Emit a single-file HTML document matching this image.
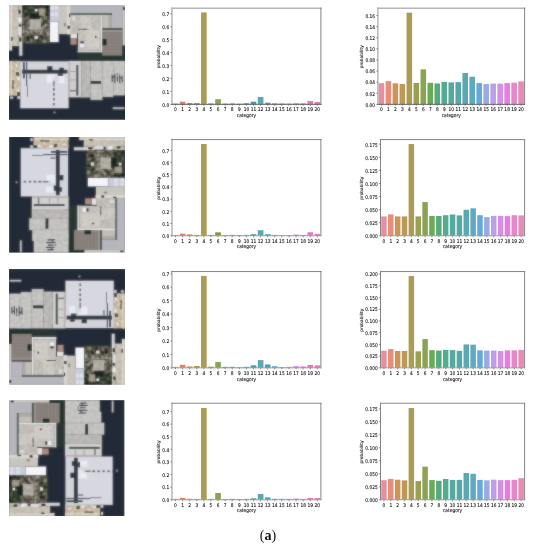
<!DOCTYPE html>
<html><head><meta charset="utf-8"><title>Figure (a)</title>
<style>
html,body{margin:0;padding:0;background:#fff;}
svg{display:block}
.ch text{font-family:"DejaVu Sans","Liberation Sans",sans-serif;font-size:43.5px;fill:#111;stroke:#111;stroke-width:0.9px;text-rendering:geometricPrecision;}
.cap{font-family:"Liberation Serif","DejaVu Serif",serif;font-size:14.1px;fill:#111;}
</style></head><body>
<svg width="535" height="550" viewBox="0 0 535 550">
<defs>
<filter id="nz" x="0" y="0" width="100%" height="100%" color-interpolation-filters="sRGB"><feTurbulence type="fractalNoise" baseFrequency="0.3" numOctaves="2" seed="7"/><feColorMatrix type="matrix" values="0 2.2 0 0 -0.6  0 2.2 0 0 -0.6  0 2.2 0 0 -0.6  0 0 0 0 1"/></filter>
<filter id="bl" x="-5%" y="-5%" width="110%" height="110%"><feGaussianBlur stdDeviation="0.8"/></filter>
<g id="scene"><g transform="translate(-9,-5.3)">
<!-- base dark shadow -->
<rect x="8" y="4" width="119" height="118" fill="#242b38"/>
<!-- ===== top-left ===== -->
<rect x="9" y="5" width="3" height="45.5" fill="#d8d4ca"/>
<rect x="11.9" y="5" width="6.4" height="41" fill="#c7c0b3"/>
<rect x="18.2" y="5" width="4" height="41" fill="#bfbaaf"/>
<rect x="19.3" y="41" width="3" height="14.7" fill="#d0d0d4"/>
<!-- cars -->
<rect x="18.4" y="9.7" width="2.2" height="3.8" rx="0.8" fill="#2a2e28"/>
<rect x="18.3" y="17.6" width="3" height="4.8" rx="1" fill="#ececf2"/>
<rect x="19" y="24.3" width="2.2" height="2.2" rx="0.8" fill="#33372f"/>
<rect x="18.3" y="27" width="3.2" height="8.2" rx="1" fill="#dedee4"/>
<rect x="19.2" y="37.4" width="2" height="4.5" rx="0.8" fill="#2a2e28"/>
<rect x="11" y="37" width="1.6" height="4" rx="0.6" fill="#4a4a40"/>
<!-- park -->
<rect x="22" y="5" width="27.6" height="38.3" fill="#5a5950"/>
<rect x="22" y="5" width="27.6" height="12.5" fill="#394035"/>
<rect x="22" y="17.5" width="8" height="26" fill="#67645a"/>
<rect x="41" y="16" width="8.6" height="27" fill="#5e5e52"/>
<rect x="24" y="35.5" width="25" height="4.5" fill="#4f5044"/>
<rect x="23" y="30.5" width="26" height="4" fill="#706d62"/>
<rect x="24" y="22" width="5" height="6" fill="#595a4e"/>
<rect x="42" y="25" width="6" height="5" fill="#76736a"/>
<rect x="29.8" y="19.45" width="11.2" height="10.1" fill="#b0aca4"/>
<rect x="30.9" y="14.2" width="9" height="4.6" rx="1" fill="#1c2622"/>
<rect x="38.8" y="8.6" width="6.4" height="7.1" fill="#9e9585"/>
<rect x="35" y="9" width="2.3" height="2.2" fill="#e4e4e4"/>
<rect x="34.7" y="36.3" width="3" height="2.6" fill="#dcdcd8"/>
<rect x="26.8" y="36" width="2" height="2.6" fill="#22281f"/>
<rect x="31.6" y="36.6" width="2" height="2.3" fill="#2a3026"/>
<rect x="26.5" y="13.8" width="2" height="2" fill="#20261f"/>
<rect x="43" y="21" width="2.4" height="2.4" fill="#333a2c"/>
<rect x="45.5" y="6" width="4" height="2" fill="#1e241e"/>
<rect x="22" y="5" width="27.6" height="38.3" filter="url(#nz)" opacity="0.45" style="mix-blend-mode:overlay"/>
<rect x="29.8" y="19.45" width="11.2" height="10.1" fill="#b0aca4" opacity="0.8"/>
<rect x="30.9" y="14.2" width="9" height="4.6" rx="1" fill="#1c2622" opacity="0.85"/>
<rect x="38.8" y="8.6" width="6.4" height="7.1" fill="#9e9585" opacity="0.7"/>
<rect x="35" y="9" width="2.3" height="2.2" fill="#e4e4e4"/>
<rect x="34.7" y="36.3" width="3" height="2.6" fill="#dcdcd8"/>
<!-- white grid bldg and bright white bldg -->
<rect x="50" y="5" width="9" height="16.6" fill="#cacdd9"/>
<rect x="51" y="6" width="3" height="3.5" fill="#dfe2ec"/>
<rect x="55" y="6" width="3" height="3.5" fill="#dfe2ec"/>
<rect x="51" y="12.5" width="3" height="3.5" fill="#dfe2ec"/>
<rect x="55" y="12.5" width="3" height="3.5" fill="#dfe2ec"/>
<rect x="50" y="21.7" width="8.6" height="20.3" fill="#f4f4f8"/>
<!-- street between -->
<rect x="58.8" y="5" width="11.7" height="29" fill="#c8c5bf"/>
<rect x="67.2" y="5" width="3.2" height="29" fill="#d9d7d3"/>
<rect x="63" y="5" width="7.4" height="28.6" fill="#c9c6c0"/>
<rect x="67.2" y="5" width="3.2" height="29.5" fill="#d9d7d3"/>
<rect x="69" y="13.8" width="1.3" height="3.4" fill="#2a2e2a"/>
<rect x="67.6" y="25.8" width="2.2" height="3" rx="0.6" fill="#262a26"/>
<rect x="63.9" y="22.8" width="1.8" height="3.4" fill="#8a8468"/>
<!-- ===== top-right ===== -->
<rect x="70.5" y="5" width="52.2" height="8.2" fill="#b7b7bd"/>
<rect x="112" y="13" width="10.6" height="15.8" fill="#b5b5bd"/>
<rect x="122.5" y="5" width="3" height="40.6" fill="#d2cfca"/>
<rect x="122.9" y="7" width="1.8" height="3" rx="0.6" fill="#2a2e2a"/>
<rect x="70.5" y="13.1" width="40.8" height="1.9" fill="#5c6862"/>
<!-- roof main -->
<rect x="70.3" y="15" width="30.4" height="18.3" fill="#bfbbb5"/>
<rect x="78" y="29" width="22.7" height="21.4" fill="#c2beb8"/>
<rect x="80.5" y="15" width="11" height="14.5" fill="#cbc7c1"/>
<rect x="72.4" y="16" width="2.7" height="4.6" fill="#dadade"/>
<rect x="78.3" y="28.8" width="9" height="0.9" fill="#3b4540"/>
<rect x="86" y="30" width="13" height="19" fill="#cfcbc5"/>
<rect x="80" y="43.7" width="4.4" height="3.4" fill="#e8ecf4"/>
<rect x="80.6" y="41.4" width="3.2" height="1.8" fill="#28302c"/>
<rect x="95" y="36" width="1.6" height="2" fill="#444a48"/>
<rect x="70.3" y="15" width="30.4" height="35.4" filter="url(#nz)" opacity="0.16" style="mix-blend-mode:overlay"/>
<!-- pink-white thing and brown -->
<rect x="70.5" y="33.3" width="6.6" height="4.9" fill="#e8e0e0"/>
<rect x="70.6" y="38.2" width="6" height="6.5" fill="#a88c7c"/>
<!-- white wall -->
<rect x="100.5" y="15" width="1.9" height="41" fill="#e6e6e6"/>
<rect x="102.3" y="15" width="9.5" height="13.2" fill="#c2beb8"/>
<rect x="108.5" y="15" width="3.3" height="13.2" fill="#aeaaa2"/>
<rect x="102.3" y="28" width="20" height="2" fill="#4c5652"/>
<rect x="102.3" y="30" width="20.1" height="25.8" fill="#867e79"/>
<rect x="102.3" y="30" width="20.1" height="2" fill="#9c9690"/>
<g fill="#948c86" opacity="0.7"><rect x="102.3" y="34" width="20.1" height="0.8"/><rect x="102.3" y="37.4" width="20.1" height="0.8"/><rect x="102.3" y="40.8" width="20.1" height="0.8"/><rect x="102.3" y="44.2" width="20.1" height="0.8"/><rect x="102.3" y="47.6" width="20.1" height="0.8"/><rect x="102.3" y="51" width="20.1" height="0.8"/></g>
<rect x="102.3" y="38.9" width="4.2" height="6.4" fill="#1e2a24"/>
<!-- white line and green dark -->
<rect x="77.7" y="50.3" width="23" height="2.2" fill="#d8d8d8"/>
<rect x="77.7" y="52.5" width="24.6" height="8.2" fill="#2a3634"/>
<rect x="102.3" y="55.8" width="22.7" height="4.9" fill="#26322f"/>
<rect x="122.3" y="45.6" width="2.7" height="15" fill="#2a3a34"/>
<!-- ===== bottom-left ===== -->
<rect x="9" y="61" width="11.4" height="34.7" fill="#c9bda9"/>
<rect x="9" y="61" width="3" height="34.7" fill="#d6ccb8"/>
<rect x="15.5" y="64" width="1.6" height="3" fill="#e6e6e6"/>
<rect x="16" y="72" width="3" height="3.6" fill="#4a5040"/>
<rect x="17" y="77" width="3" height="3" fill="#e2e2e6"/>
<rect x="12.3" y="80" width="1.3" height="9" fill="#565848"/>
<rect x="16.5" y="89" width="2.6" height="2.6" fill="#e2e2e6"/>
<rect x="17.3" y="92" width="2.6" height="4" fill="#30382e"/>
<rect x="10" y="96.5" width="3.2" height="2.2" fill="#c8c8cc"/>
<rect x="17.3" y="96" width="2.8" height="3" fill="#c4c0c4"/>
<rect x="9" y="61" width="11.4" height="34.7" filter="url(#nz)" opacity="0.25" style="mix-blend-mode:overlay"/>
<rect x="9" y="5" width="13" height="41" filter="url(#nz)" opacity="0.15" style="mix-blend-mode:overlay"/>
<!-- white building -->
<rect x="20.3" y="61.6" width="48.3" height="46.6" fill="#d8d8e0"/>
<rect x="20.3" y="61.6" width="48.3" height="8.4" fill="#d3d3da"/>
<!-- dark bar -->
<rect x="22" y="69.8" width="45.4" height="3.8" fill="#2e343e"/>
<rect x="47.2" y="66.2" width="5.2" height="3.8" fill="#2e343e"/>
<rect x="59.3" y="67.7" width="4.6" height="2.3" fill="#2e343e"/>
<rect x="57.8" y="73.4" width="5.2" height="2.4" fill="#333943"/>
<rect x="23" y="62.4" width="1.8" height="16" fill="#3c424c"/>
<rect x="26" y="62" width="1.2" height="24" fill="#4a505a"/>
<rect x="27" y="86" width="0.9" height="11" fill="#6a7078"/>
<rect x="29.5" y="74" width="1.2" height="5" fill="#555b64"/>
<!-- white patches below bar -->
<rect x="46.8" y="74.6" width="5.6" height="8" fill="#ececf4"/>
<rect x="58.8" y="76" width="5.8" height="7.2" fill="#eaeaf2"/>
<rect x="52.6" y="74.2" width="2.4" height="4" fill="#e8e8f0"/>
<!-- dotted vertical line -->
<rect x="53.2" y="81" width="1.4" height="5.5" fill="#6a7078"/>
<rect x="53" y="88" width="1.7" height="2.8" fill="#5a616a"/>
<rect x="53" y="93" width="1.7" height="2.6" fill="#5a616a"/>
<rect x="53" y="98" width="1.7" height="2.4" fill="#5a616a"/>
<rect x="53" y="103" width="1.7" height="2.4" fill="#5a616a"/>
<rect x="52.7" y="108" width="2.6" height="1.6" fill="#3a4148"/>
<rect x="53.6" y="111.5" width="1.8" height="1.8" fill="#9a9ea6"/>
<!-- ===== bottom-right ===== -->
<rect x="68.5" y="61" width="12.9" height="36.3" fill="#d1d0d1"/>
<rect x="76.3" y="65" width="2" height="30.5" fill="#3f4945"/>
<rect x="69.2" y="62" width="1" height="35" fill="#b9ae9e"/>
<rect x="70" y="71" width="5.5" height="0.9" fill="#a89c8a"/>
<rect x="70" y="79.5" width="5.5" height="0.9" fill="#a89c8a"/>
<rect x="70" y="90" width="7" height="1.4" fill="#6a706e"/>
<rect x="81.3" y="61" width="9.3" height="36.5" fill="#bab8b5"/>
<rect x="90.5" y="61" width="11.9" height="38.9" fill="#c3c2bf"/>
<rect x="90.8" y="81" width="10.2" height="2.8" fill="#25352f"/>
<rect x="102.3" y="61" width="11" height="35.9" fill="#c5c4c1"/>
<rect x="113.2" y="61" width="11.8" height="34.4" fill="#c5c4c1"/>
<rect x="101.6" y="61" width="0.9" height="36" fill="#b2b0ac"/>
<rect x="81.3" y="61" width="43.7" height="36" filter="url(#nz)" opacity="0.12" style="mix-blend-mode:overlay"/>
<!-- graffiti -->
<g stroke="#3c424c" stroke-width="1.1" fill="none" stroke-linecap="round">
<path d="M112 74.8 L112.2 81.5 M112.2 78 L114.6 76 M114.8 74.2 L115 82.6"/>
<path d="M117.2 73.6 L117.4 74.4 M117.4 76.4 L117.5 81"/>
<path d="M119.6 75.4 L119.8 83 M122 76 L122.3 81.6 M119.8 78.6 L121.6 77.4"/>
</g>
<!-- white line in shadow -->
<rect x="112.8" y="107.3" width="11.8" height="1.8" fill="#bcbcbc"/>
<!-- bottom edge greenish line -->
<rect x="9" y="118.9" width="116" height="1" fill="#4a5648"/>
<!-- top edge street dark at y top of dark band: subtle green edges -->
<rect x="22" y="43.3" width="28" height="1" fill="#343c30"/>

</g></g>
</defs>
<rect width="535" height="550" fill="#fff"/>
<clipPath id="cp0"><rect x="9.0" y="5.3" width="116.0" height="114.5"/></clipPath><g clip-path="url(#cp0)"><g filter="url(#bl)"><g transform="translate(9.0,5.3) scale(1.00000,1.00000)"><use href="#scene"/></g></g><g transform="translate(9.0,5.3) scale(1.00000,1.00000)" opacity="0.45"><use href="#scene"/></g></g>
<clipPath id="cp1"><rect x="9.1" y="137.0" width="115.9" height="115.6"/></clipPath><g clip-path="url(#cp1)"><g filter="url(#bl)"><g transform="translate(9.1,137.0) scale(1.01223,0.99655) translate(114.5,0) rotate(90)"><use href="#scene"/></g></g><g transform="translate(9.1,137.0) scale(1.01223,0.99655) translate(114.5,0) rotate(90)" opacity="0.45"><use href="#scene"/></g></g>
<clipPath id="cp2"><rect x="9.1" y="269.0" width="115.9" height="115.7"/></clipPath><g clip-path="url(#cp2)"><g filter="url(#bl)"><g transform="translate(9.1,269.0) scale(0.99914,1.01048) translate(116.0,114.5) rotate(180)"><use href="#scene"/></g></g><g transform="translate(9.1,269.0) scale(0.99914,1.01048) translate(116.0,114.5) rotate(180)" opacity="0.45"><use href="#scene"/></g></g>
<clipPath id="cp3"><rect x="9.0" y="400.2" width="115.3" height="115.9"/></clipPath><g clip-path="url(#cp3)"><g filter="url(#bl)"><g transform="translate(9.0,400.2) scale(1.00699,0.99914) translate(0,116.0) rotate(-90)"><use href="#scene"/></g></g><g transform="translate(9.0,400.2) scale(1.00699,0.99914) translate(0,116.0) rotate(-90)" opacity="0.45"><use href="#scene"/></g></g>
<g class="ch">
<rect x="172.66" y="103.48" width="5.67" height="0.87" fill="#e68193"/>
<rect x="179.75" y="101.67" width="5.67" height="2.68" fill="#e38168"/>
<rect x="186.84" y="102.96" width="5.67" height="1.39" fill="#c98747"/>
<rect x="193.94" y="103.09" width="5.67" height="1.26" fill="#b38e44"/>
<rect x="201.03" y="12.41" width="5.67" height="91.94" fill="#aa9c55"/>
<rect x="208.12" y="103.48" width="5.67" height="0.87" fill="#90943f"/>
<rect x="215.22" y="99.17" width="5.67" height="5.18" fill="#8aa453"/>
<rect x="222.31" y="103.61" width="5.67" height="0.74" fill="#58a141"/>
<rect x="229.40" y="103.48" width="5.67" height="0.87" fill="#42a16d"/>
<rect x="236.50" y="103.74" width="5.67" height="0.61" fill="#43a084"/>
<rect x="243.59" y="103.22" width="5.67" height="1.13" fill="#449e92"/>
<rect x="250.68" y="101.67" width="5.67" height="2.68" fill="#459d9d"/>
<rect x="257.77" y="96.97" width="5.67" height="7.38" fill="#5aa8b2"/>
<rect x="264.87" y="102.70" width="5.67" height="1.65" fill="#4b9fbb"/>
<rect x="271.96" y="103.35" width="5.67" height="1.00" fill="#529fd6"/>
<rect x="279.05" y="103.35" width="5.67" height="1.00" fill="#8fa0e6"/>
<rect x="286.14" y="103.48" width="5.67" height="0.87" fill="#b296e7"/>
<rect x="293.24" y="103.22" width="5.67" height="1.13" fill="#cc85e4"/>
<rect x="300.33" y="103.35" width="5.67" height="1.00" fill="#e270db"/>
<rect x="307.42" y="101.02" width="5.67" height="3.33" fill="#e478c2"/>
<rect x="314.52" y="102.06" width="5.67" height="2.29" fill="#e57dad"/>
<line x1="171.95" y1="8.15" x2="171.95" y2="104.35" stroke="#b6b6b6" stroke-width="1.5" stroke-linecap="square"/>
<line x1="171.95" y1="8.15" x2="320.90" y2="8.15" stroke="#b6b6b6" stroke-width="1.5" stroke-linecap="square"/>
<line x1="320.90" y1="8.15" x2="320.90" y2="104.35" stroke="#767676" stroke-width="0.9" stroke-linecap="square"/>
<line x1="171.95" y1="104.35" x2="320.90" y2="104.35" stroke="#555555" stroke-width="0.9" stroke-linecap="square"/>
<line x1="175.50" y1="104.35" x2="175.50" y2="105.85" stroke="#555" stroke-width="0.6"/>
<line x1="182.59" y1="104.35" x2="182.59" y2="105.85" stroke="#555" stroke-width="0.6"/>
<line x1="189.68" y1="104.35" x2="189.68" y2="105.85" stroke="#555" stroke-width="0.6"/>
<line x1="196.77" y1="104.35" x2="196.77" y2="105.85" stroke="#555" stroke-width="0.6"/>
<line x1="203.87" y1="104.35" x2="203.87" y2="105.85" stroke="#555" stroke-width="0.6"/>
<line x1="210.96" y1="104.35" x2="210.96" y2="105.85" stroke="#555" stroke-width="0.6"/>
<line x1="218.05" y1="104.35" x2="218.05" y2="105.85" stroke="#555" stroke-width="0.6"/>
<line x1="225.15" y1="104.35" x2="225.15" y2="105.85" stroke="#555" stroke-width="0.6"/>
<line x1="232.24" y1="104.35" x2="232.24" y2="105.85" stroke="#555" stroke-width="0.6"/>
<line x1="239.33" y1="104.35" x2="239.33" y2="105.85" stroke="#555" stroke-width="0.6"/>
<line x1="246.42" y1="104.35" x2="246.42" y2="105.85" stroke="#555" stroke-width="0.6"/>
<line x1="253.52" y1="104.35" x2="253.52" y2="105.85" stroke="#555" stroke-width="0.6"/>
<line x1="260.61" y1="104.35" x2="260.61" y2="105.85" stroke="#555" stroke-width="0.6"/>
<line x1="267.70" y1="104.35" x2="267.70" y2="105.85" stroke="#555" stroke-width="0.6"/>
<line x1="274.80" y1="104.35" x2="274.80" y2="105.85" stroke="#555" stroke-width="0.6"/>
<line x1="281.89" y1="104.35" x2="281.89" y2="105.85" stroke="#555" stroke-width="0.6"/>
<line x1="288.98" y1="104.35" x2="288.98" y2="105.85" stroke="#555" stroke-width="0.6"/>
<line x1="296.07" y1="104.35" x2="296.07" y2="105.85" stroke="#555" stroke-width="0.6"/>
<line x1="303.17" y1="104.35" x2="303.17" y2="105.85" stroke="#555" stroke-width="0.6"/>
<line x1="310.26" y1="104.35" x2="310.26" y2="105.85" stroke="#555" stroke-width="0.6"/>
<line x1="317.35" y1="104.35" x2="317.35" y2="105.85" stroke="#555" stroke-width="0.6"/>
<line x1="170.35" y1="104.35" x2="171.95" y2="104.35" stroke="#555" stroke-width="0.6"/>
<line x1="170.35" y1="91.40" x2="171.95" y2="91.40" stroke="#555" stroke-width="0.6"/>
<line x1="170.35" y1="78.45" x2="171.95" y2="78.45" stroke="#555" stroke-width="0.6"/>
<line x1="170.35" y1="65.50" x2="171.95" y2="65.50" stroke="#555" stroke-width="0.6"/>
<line x1="170.35" y1="52.55" x2="171.95" y2="52.55" stroke="#555" stroke-width="0.6"/>
<line x1="170.35" y1="39.60" x2="171.95" y2="39.60" stroke="#555" stroke-width="0.6"/>
<line x1="170.35" y1="26.65" x2="171.95" y2="26.65" stroke="#555" stroke-width="0.6"/>
<line x1="170.35" y1="13.70" x2="171.95" y2="13.70" stroke="#555" stroke-width="0.6"/>
<g transform="scale(0.1)"><text transform="translate(1755.0,1111.5) scale(1,1.15)" text-anchor="middle">0</text>
<text transform="translate(1825.9,1111.5) scale(1,1.15)" text-anchor="middle">1</text>
<text transform="translate(1896.8,1111.5) scale(1,1.15)" text-anchor="middle">2</text>
<text transform="translate(1967.7,1111.5) scale(1,1.15)" text-anchor="middle">3</text>
<text transform="translate(2038.7,1111.5) scale(1,1.15)" text-anchor="middle">4</text>
<text transform="translate(2109.6,1111.5) scale(1,1.15)" text-anchor="middle">5</text>
<text transform="translate(2180.5,1111.5) scale(1,1.15)" text-anchor="middle">6</text>
<text transform="translate(2251.5,1111.5) scale(1,1.15)" text-anchor="middle">7</text>
<text transform="translate(2322.4,1111.5) scale(1,1.15)" text-anchor="middle">8</text>
<text transform="translate(2393.3,1111.5) scale(1,1.15)" text-anchor="middle">9</text>
<text transform="translate(2464.2,1111.5) scale(1,1.15)" text-anchor="middle">10</text>
<text transform="translate(2535.2,1111.5) scale(1,1.15)" text-anchor="middle">11</text>
<text transform="translate(2606.1,1111.5) scale(1,1.15)" text-anchor="middle">12</text>
<text transform="translate(2677.0,1111.5) scale(1,1.15)" text-anchor="middle">13</text>
<text transform="translate(2748.0,1111.5) scale(1,1.15)" text-anchor="middle">14</text>
<text transform="translate(2818.9,1111.5) scale(1,1.15)" text-anchor="middle">15</text>
<text transform="translate(2889.8,1111.5) scale(1,1.15)" text-anchor="middle">16</text>
<text transform="translate(2960.8,1111.5) scale(1,1.15)" text-anchor="middle">17</text>
<text transform="translate(3031.7,1111.5) scale(1,1.15)" text-anchor="middle">18</text>
<text transform="translate(3102.6,1111.5) scale(1,1.15)" text-anchor="middle">19</text>
<text transform="translate(3173.5,1111.5) scale(1,1.15)" text-anchor="middle">20</text>
<text transform="translate(1691.5,1066.0) scale(1,1.15)" text-anchor="end">0.0</text>
<text transform="translate(1691.5,936.5) scale(1,1.15)" text-anchor="end">0.1</text>
<text transform="translate(1691.5,807.0) scale(1,1.15)" text-anchor="end">0.2</text>
<text transform="translate(1691.5,677.5) scale(1,1.15)" text-anchor="end">0.3</text>
<text transform="translate(1691.5,548.0) scale(1,1.15)" text-anchor="end">0.4</text>
<text transform="translate(1691.5,418.5) scale(1,1.15)" text-anchor="end">0.5</text>
<text transform="translate(1691.5,289.0) scale(1,1.15)" text-anchor="end">0.6</text>
<text transform="translate(1691.5,159.5) scale(1,1.15)" text-anchor="end">0.7</text>
<text transform="translate(2464.2,1170.5) scale(1,1.15)" text-anchor="middle">category</text>
<text transform="translate(1595.2,567.5) rotate(-90) scale(1,0.97)" text-anchor="middle">probability</text></g>
<rect x="378.60" y="83.15" width="5.59" height="21.20" fill="#e88e9e"/>
<rect x="385.58" y="81.15" width="5.59" height="23.20" fill="#e68e77"/>
<rect x="392.57" y="83.26" width="5.59" height="21.09" fill="#ce9359"/>
<rect x="399.56" y="84.04" width="5.59" height="20.31" fill="#bb9957"/>
<rect x="406.54" y="12.66" width="5.59" height="91.69" fill="#aa9c55"/>
<rect x="413.53" y="82.98" width="5.59" height="21.37" fill="#9b9f52"/>
<rect x="420.51" y="69.38" width="5.59" height="34.97" fill="#8aa453"/>
<rect x="427.50" y="82.82" width="5.59" height="21.53" fill="#69aa54"/>
<rect x="434.48" y="83.48" width="5.59" height="20.87" fill="#55aa7c"/>
<rect x="441.47" y="81.93" width="5.59" height="22.42" fill="#56aa90"/>
<rect x="448.46" y="82.37" width="5.59" height="21.98" fill="#57a89d"/>
<rect x="455.44" y="82.15" width="5.59" height="22.20" fill="#58a7a7"/>
<rect x="462.43" y="72.94" width="5.59" height="31.41" fill="#5aa8b2"/>
<rect x="469.41" y="76.71" width="5.59" height="27.64" fill="#5da9c2"/>
<rect x="476.40" y="83.09" width="5.59" height="21.26" fill="#63a9da"/>
<rect x="483.38" y="84.04" width="5.59" height="20.31" fill="#9aaae8"/>
<rect x="490.37" y="83.59" width="5.59" height="20.76" fill="#baa0e9"/>
<rect x="497.36" y="83.59" width="5.59" height="20.76" fill="#d191e7"/>
<rect x="504.34" y="83.09" width="5.59" height="21.26" fill="#e57edf"/>
<rect x="511.33" y="82.65" width="5.59" height="21.70" fill="#e786c8"/>
<rect x="518.31" y="81.43" width="5.59" height="22.92" fill="#e88ab5"/>
<line x1="377.90" y1="8.15" x2="377.90" y2="104.35" stroke="#b6b6b6" stroke-width="1.5" stroke-linecap="square"/>
<line x1="377.90" y1="8.15" x2="524.60" y2="8.15" stroke="#b6b6b6" stroke-width="1.5" stroke-linecap="square"/>
<line x1="524.60" y1="8.15" x2="524.60" y2="104.35" stroke="#767676" stroke-width="0.9" stroke-linecap="square"/>
<line x1="377.90" y1="104.35" x2="524.60" y2="104.35" stroke="#555555" stroke-width="0.9" stroke-linecap="square"/>
<line x1="381.39" y1="104.35" x2="381.39" y2="105.85" stroke="#555" stroke-width="0.6"/>
<line x1="388.38" y1="104.35" x2="388.38" y2="105.85" stroke="#555" stroke-width="0.6"/>
<line x1="395.36" y1="104.35" x2="395.36" y2="105.85" stroke="#555" stroke-width="0.6"/>
<line x1="402.35" y1="104.35" x2="402.35" y2="105.85" stroke="#555" stroke-width="0.6"/>
<line x1="409.34" y1="104.35" x2="409.34" y2="105.85" stroke="#555" stroke-width="0.6"/>
<line x1="416.32" y1="104.35" x2="416.32" y2="105.85" stroke="#555" stroke-width="0.6"/>
<line x1="423.31" y1="104.35" x2="423.31" y2="105.85" stroke="#555" stroke-width="0.6"/>
<line x1="430.29" y1="104.35" x2="430.29" y2="105.85" stroke="#555" stroke-width="0.6"/>
<line x1="437.28" y1="104.35" x2="437.28" y2="105.85" stroke="#555" stroke-width="0.6"/>
<line x1="444.26" y1="104.35" x2="444.26" y2="105.85" stroke="#555" stroke-width="0.6"/>
<line x1="451.25" y1="104.35" x2="451.25" y2="105.85" stroke="#555" stroke-width="0.6"/>
<line x1="458.24" y1="104.35" x2="458.24" y2="105.85" stroke="#555" stroke-width="0.6"/>
<line x1="465.22" y1="104.35" x2="465.22" y2="105.85" stroke="#555" stroke-width="0.6"/>
<line x1="472.21" y1="104.35" x2="472.21" y2="105.85" stroke="#555" stroke-width="0.6"/>
<line x1="479.19" y1="104.35" x2="479.19" y2="105.85" stroke="#555" stroke-width="0.6"/>
<line x1="486.18" y1="104.35" x2="486.18" y2="105.85" stroke="#555" stroke-width="0.6"/>
<line x1="493.16" y1="104.35" x2="493.16" y2="105.85" stroke="#555" stroke-width="0.6"/>
<line x1="500.15" y1="104.35" x2="500.15" y2="105.85" stroke="#555" stroke-width="0.6"/>
<line x1="507.14" y1="104.35" x2="507.14" y2="105.85" stroke="#555" stroke-width="0.6"/>
<line x1="514.12" y1="104.35" x2="514.12" y2="105.85" stroke="#555" stroke-width="0.6"/>
<line x1="521.11" y1="104.35" x2="521.11" y2="105.85" stroke="#555" stroke-width="0.6"/>
<line x1="376.30" y1="104.35" x2="377.90" y2="104.35" stroke="#555" stroke-width="0.6"/>
<line x1="376.30" y1="93.25" x2="377.90" y2="93.25" stroke="#555" stroke-width="0.6"/>
<line x1="376.30" y1="82.15" x2="377.90" y2="82.15" stroke="#555" stroke-width="0.6"/>
<line x1="376.30" y1="71.05" x2="377.90" y2="71.05" stroke="#555" stroke-width="0.6"/>
<line x1="376.30" y1="59.95" x2="377.90" y2="59.95" stroke="#555" stroke-width="0.6"/>
<line x1="376.30" y1="48.85" x2="377.90" y2="48.85" stroke="#555" stroke-width="0.6"/>
<line x1="376.30" y1="37.75" x2="377.90" y2="37.75" stroke="#555" stroke-width="0.6"/>
<line x1="376.30" y1="26.65" x2="377.90" y2="26.65" stroke="#555" stroke-width="0.6"/>
<line x1="376.30" y1="15.55" x2="377.90" y2="15.55" stroke="#555" stroke-width="0.6"/>
<g transform="scale(0.1)"><text transform="translate(3813.9,1111.5) scale(1,1.15)" text-anchor="middle">0</text>
<text transform="translate(3883.8,1111.5) scale(1,1.15)" text-anchor="middle">1</text>
<text transform="translate(3953.6,1111.5) scale(1,1.15)" text-anchor="middle">2</text>
<text transform="translate(4023.5,1111.5) scale(1,1.15)" text-anchor="middle">3</text>
<text transform="translate(4093.4,1111.5) scale(1,1.15)" text-anchor="middle">4</text>
<text transform="translate(4163.2,1111.5) scale(1,1.15)" text-anchor="middle">5</text>
<text transform="translate(4233.1,1111.5) scale(1,1.15)" text-anchor="middle">6</text>
<text transform="translate(4302.9,1111.5) scale(1,1.15)" text-anchor="middle">7</text>
<text transform="translate(4372.8,1111.5) scale(1,1.15)" text-anchor="middle">8</text>
<text transform="translate(4442.6,1111.5) scale(1,1.15)" text-anchor="middle">9</text>
<text transform="translate(4512.5,1111.5) scale(1,1.15)" text-anchor="middle">10</text>
<text transform="translate(4582.4,1111.5) scale(1,1.15)" text-anchor="middle">11</text>
<text transform="translate(4652.2,1111.5) scale(1,1.15)" text-anchor="middle">12</text>
<text transform="translate(4722.1,1111.5) scale(1,1.15)" text-anchor="middle">13</text>
<text transform="translate(4791.9,1111.5) scale(1,1.15)" text-anchor="middle">14</text>
<text transform="translate(4861.8,1111.5) scale(1,1.15)" text-anchor="middle">15</text>
<text transform="translate(4931.6,1111.5) scale(1,1.15)" text-anchor="middle">16</text>
<text transform="translate(5001.5,1111.5) scale(1,1.15)" text-anchor="middle">17</text>
<text transform="translate(5071.4,1111.5) scale(1,1.15)" text-anchor="middle">18</text>
<text transform="translate(5141.2,1111.5) scale(1,1.15)" text-anchor="middle">19</text>
<text transform="translate(5211.1,1111.5) scale(1,1.15)" text-anchor="middle">20</text>
<text transform="translate(3751.0,1066.0) scale(1,1.15)" text-anchor="end">0.00</text>
<text transform="translate(3751.0,955.0) scale(1,1.15)" text-anchor="end">0.02</text>
<text transform="translate(3751.0,844.0) scale(1,1.15)" text-anchor="end">0.04</text>
<text transform="translate(3751.0,733.0) scale(1,1.15)" text-anchor="end">0.06</text>
<text transform="translate(3751.0,622.0) scale(1,1.15)" text-anchor="end">0.08</text>
<text transform="translate(3751.0,511.0) scale(1,1.15)" text-anchor="end">0.10</text>
<text transform="translate(3751.0,400.0) scale(1,1.15)" text-anchor="end">0.12</text>
<text transform="translate(3751.0,289.0) scale(1,1.15)" text-anchor="end">0.14</text>
<text transform="translate(3751.0,178.0) scale(1,1.15)" text-anchor="end">0.16</text>
<text transform="translate(4512.5,1170.5) scale(1,1.15)" text-anchor="middle">category</text>
<text transform="translate(3628.6,567.5) rotate(-90) scale(1,0.97)" text-anchor="middle">probability</text></g>
<rect x="172.66" y="235.03" width="5.67" height="0.72" fill="#e68193"/>
<rect x="179.75" y="233.69" width="5.67" height="2.06" fill="#e38168"/>
<rect x="186.84" y="234.42" width="5.67" height="1.33" fill="#c98747"/>
<rect x="193.94" y="234.91" width="5.67" height="0.84" fill="#b38e44"/>
<rect x="201.03" y="144.01" width="5.67" height="91.74" fill="#aa9c55"/>
<rect x="208.12" y="234.91" width="5.67" height="0.84" fill="#90943f"/>
<rect x="215.22" y="232.35" width="5.67" height="3.40" fill="#7d9a40"/>
<rect x="222.31" y="235.03" width="5.67" height="0.72" fill="#58a141"/>
<rect x="229.40" y="234.91" width="5.67" height="0.84" fill="#42a16d"/>
<rect x="236.50" y="235.16" width="5.67" height="0.59" fill="#43a084"/>
<rect x="243.59" y="234.91" width="5.67" height="0.84" fill="#449e92"/>
<rect x="250.68" y="234.22" width="5.67" height="1.53" fill="#459d9d"/>
<rect x="257.77" y="230.20" width="5.67" height="5.55" fill="#5aa8b2"/>
<rect x="264.87" y="234.22" width="5.67" height="1.53" fill="#4b9fbb"/>
<rect x="271.96" y="234.91" width="5.67" height="0.84" fill="#529fd6"/>
<rect x="279.05" y="235.03" width="5.67" height="0.72" fill="#8fa0e6"/>
<rect x="286.14" y="235.03" width="5.67" height="0.72" fill="#b296e7"/>
<rect x="293.24" y="234.55" width="5.67" height="1.20" fill="#cc85e4"/>
<rect x="300.33" y="234.91" width="5.67" height="0.84" fill="#e270db"/>
<rect x="307.42" y="232.23" width="5.67" height="3.52" fill="#e478c2"/>
<rect x="314.52" y="233.89" width="5.67" height="1.86" fill="#e57dad"/>
<line x1="171.95" y1="139.60" x2="171.95" y2="235.75" stroke="#b6b6b6" stroke-width="1.5" stroke-linecap="square"/>
<line x1="171.95" y1="139.60" x2="320.90" y2="139.60" stroke="#767676" stroke-width="0.9" stroke-linecap="square"/>
<line x1="320.90" y1="139.60" x2="320.90" y2="235.75" stroke="#767676" stroke-width="0.9" stroke-linecap="square"/>
<line x1="171.95" y1="235.75" x2="320.90" y2="235.75" stroke="#9c9c9c" stroke-width="1.0" stroke-linecap="square"/>
<line x1="175.50" y1="235.75" x2="175.50" y2="237.25" stroke="#555" stroke-width="0.6"/>
<line x1="182.59" y1="235.75" x2="182.59" y2="237.25" stroke="#555" stroke-width="0.6"/>
<line x1="189.68" y1="235.75" x2="189.68" y2="237.25" stroke="#555" stroke-width="0.6"/>
<line x1="196.77" y1="235.75" x2="196.77" y2="237.25" stroke="#555" stroke-width="0.6"/>
<line x1="203.87" y1="235.75" x2="203.87" y2="237.25" stroke="#555" stroke-width="0.6"/>
<line x1="210.96" y1="235.75" x2="210.96" y2="237.25" stroke="#555" stroke-width="0.6"/>
<line x1="218.05" y1="235.75" x2="218.05" y2="237.25" stroke="#555" stroke-width="0.6"/>
<line x1="225.15" y1="235.75" x2="225.15" y2="237.25" stroke="#555" stroke-width="0.6"/>
<line x1="232.24" y1="235.75" x2="232.24" y2="237.25" stroke="#555" stroke-width="0.6"/>
<line x1="239.33" y1="235.75" x2="239.33" y2="237.25" stroke="#555" stroke-width="0.6"/>
<line x1="246.42" y1="235.75" x2="246.42" y2="237.25" stroke="#555" stroke-width="0.6"/>
<line x1="253.52" y1="235.75" x2="253.52" y2="237.25" stroke="#555" stroke-width="0.6"/>
<line x1="260.61" y1="235.75" x2="260.61" y2="237.25" stroke="#555" stroke-width="0.6"/>
<line x1="267.70" y1="235.75" x2="267.70" y2="237.25" stroke="#555" stroke-width="0.6"/>
<line x1="274.80" y1="235.75" x2="274.80" y2="237.25" stroke="#555" stroke-width="0.6"/>
<line x1="281.89" y1="235.75" x2="281.89" y2="237.25" stroke="#555" stroke-width="0.6"/>
<line x1="288.98" y1="235.75" x2="288.98" y2="237.25" stroke="#555" stroke-width="0.6"/>
<line x1="296.07" y1="235.75" x2="296.07" y2="237.25" stroke="#555" stroke-width="0.6"/>
<line x1="303.17" y1="235.75" x2="303.17" y2="237.25" stroke="#555" stroke-width="0.6"/>
<line x1="310.26" y1="235.75" x2="310.26" y2="237.25" stroke="#555" stroke-width="0.6"/>
<line x1="317.35" y1="235.75" x2="317.35" y2="237.25" stroke="#555" stroke-width="0.6"/>
<line x1="170.35" y1="235.75" x2="171.95" y2="235.75" stroke="#555" stroke-width="0.6"/>
<line x1="170.35" y1="223.55" x2="171.95" y2="223.55" stroke="#555" stroke-width="0.6"/>
<line x1="170.35" y1="211.35" x2="171.95" y2="211.35" stroke="#555" stroke-width="0.6"/>
<line x1="170.35" y1="199.15" x2="171.95" y2="199.15" stroke="#555" stroke-width="0.6"/>
<line x1="170.35" y1="186.95" x2="171.95" y2="186.95" stroke="#555" stroke-width="0.6"/>
<line x1="170.35" y1="174.75" x2="171.95" y2="174.75" stroke="#555" stroke-width="0.6"/>
<line x1="170.35" y1="162.55" x2="171.95" y2="162.55" stroke="#555" stroke-width="0.6"/>
<line x1="170.35" y1="150.35" x2="171.95" y2="150.35" stroke="#555" stroke-width="0.6"/>
<g transform="scale(0.1)"><text transform="translate(1755.0,2425.5) scale(1,1.15)" text-anchor="middle">0</text>
<text transform="translate(1825.9,2425.5) scale(1,1.15)" text-anchor="middle">1</text>
<text transform="translate(1896.8,2425.5) scale(1,1.15)" text-anchor="middle">2</text>
<text transform="translate(1967.7,2425.5) scale(1,1.15)" text-anchor="middle">3</text>
<text transform="translate(2038.7,2425.5) scale(1,1.15)" text-anchor="middle">4</text>
<text transform="translate(2109.6,2425.5) scale(1,1.15)" text-anchor="middle">5</text>
<text transform="translate(2180.5,2425.5) scale(1,1.15)" text-anchor="middle">6</text>
<text transform="translate(2251.5,2425.5) scale(1,1.15)" text-anchor="middle">7</text>
<text transform="translate(2322.4,2425.5) scale(1,1.15)" text-anchor="middle">8</text>
<text transform="translate(2393.3,2425.5) scale(1,1.15)" text-anchor="middle">9</text>
<text transform="translate(2464.2,2425.5) scale(1,1.15)" text-anchor="middle">10</text>
<text transform="translate(2535.2,2425.5) scale(1,1.15)" text-anchor="middle">11</text>
<text transform="translate(2606.1,2425.5) scale(1,1.15)" text-anchor="middle">12</text>
<text transform="translate(2677.0,2425.5) scale(1,1.15)" text-anchor="middle">13</text>
<text transform="translate(2748.0,2425.5) scale(1,1.15)" text-anchor="middle">14</text>
<text transform="translate(2818.9,2425.5) scale(1,1.15)" text-anchor="middle">15</text>
<text transform="translate(2889.8,2425.5) scale(1,1.15)" text-anchor="middle">16</text>
<text transform="translate(2960.8,2425.5) scale(1,1.15)" text-anchor="middle">17</text>
<text transform="translate(3031.7,2425.5) scale(1,1.15)" text-anchor="middle">18</text>
<text transform="translate(3102.6,2425.5) scale(1,1.15)" text-anchor="middle">19</text>
<text transform="translate(3173.5,2425.5) scale(1,1.15)" text-anchor="middle">20</text>
<text transform="translate(1691.5,2380.0) scale(1,1.15)" text-anchor="end">0.0</text>
<text transform="translate(1691.5,2258.0) scale(1,1.15)" text-anchor="end">0.1</text>
<text transform="translate(1691.5,2136.0) scale(1,1.15)" text-anchor="end">0.2</text>
<text transform="translate(1691.5,2014.0) scale(1,1.15)" text-anchor="end">0.3</text>
<text transform="translate(1691.5,1892.0) scale(1,1.15)" text-anchor="end">0.4</text>
<text transform="translate(1691.5,1770.0) scale(1,1.15)" text-anchor="end">0.5</text>
<text transform="translate(1691.5,1648.0) scale(1,1.15)" text-anchor="end">0.6</text>
<text transform="translate(1691.5,1526.0) scale(1,1.15)" text-anchor="end">0.7</text>
<text transform="translate(2464.2,2484.5) scale(1,1.15)" text-anchor="middle">category</text>
<text transform="translate(1595.2,1881.8) rotate(-90) scale(1,0.97)" text-anchor="middle">probability</text></g>
<rect x="381.19" y="216.41" width="5.49" height="19.34" fill="#e88e9e"/>
<rect x="388.05" y="214.37" width="5.49" height="21.38" fill="#e68e77"/>
<rect x="394.91" y="216.41" width="5.49" height="19.34" fill="#ce9359"/>
<rect x="401.77" y="216.41" width="5.49" height="19.34" fill="#bb9957"/>
<rect x="408.63" y="144.05" width="5.49" height="91.70" fill="#aa9c55"/>
<rect x="415.50" y="216.41" width="5.49" height="19.34" fill="#9b9f52"/>
<rect x="422.36" y="202.08" width="5.49" height="33.67" fill="#8aa453"/>
<rect x="429.22" y="215.88" width="5.49" height="19.87" fill="#69aa54"/>
<rect x="436.08" y="215.99" width="5.49" height="19.76" fill="#55aa7c"/>
<rect x="442.94" y="215.20" width="5.49" height="20.55" fill="#56aa90"/>
<rect x="449.81" y="214.47" width="5.49" height="21.28" fill="#57a89d"/>
<rect x="456.67" y="215.41" width="5.49" height="20.34" fill="#58a7a7"/>
<rect x="463.53" y="209.77" width="5.49" height="25.98" fill="#5aa8b2"/>
<rect x="470.39" y="208.36" width="5.49" height="27.39" fill="#5da9c2"/>
<rect x="477.25" y="215.20" width="5.49" height="20.55" fill="#63a9da"/>
<rect x="484.11" y="217.09" width="5.49" height="18.66" fill="#9aaae8"/>
<rect x="490.98" y="215.88" width="5.49" height="19.87" fill="#baa0e9"/>
<rect x="497.84" y="215.88" width="5.49" height="19.87" fill="#d191e7"/>
<rect x="504.70" y="216.15" width="5.49" height="19.60" fill="#e57edf"/>
<rect x="511.56" y="215.20" width="5.49" height="20.55" fill="#e786c8"/>
<rect x="518.42" y="215.41" width="5.49" height="20.34" fill="#e88ab5"/>
<line x1="380.50" y1="139.60" x2="380.50" y2="235.75" stroke="#767676" stroke-width="0.9" stroke-linecap="square"/>
<line x1="380.50" y1="139.60" x2="524.60" y2="139.60" stroke="#767676" stroke-width="0.9" stroke-linecap="square"/>
<line x1="524.60" y1="139.60" x2="524.60" y2="235.75" stroke="#767676" stroke-width="0.9" stroke-linecap="square"/>
<line x1="380.50" y1="235.75" x2="524.60" y2="235.75" stroke="#9c9c9c" stroke-width="1.0" stroke-linecap="square"/>
<line x1="383.93" y1="235.75" x2="383.93" y2="237.25" stroke="#555" stroke-width="0.6"/>
<line x1="390.79" y1="235.75" x2="390.79" y2="237.25" stroke="#555" stroke-width="0.6"/>
<line x1="397.65" y1="235.75" x2="397.65" y2="237.25" stroke="#555" stroke-width="0.6"/>
<line x1="404.52" y1="235.75" x2="404.52" y2="237.25" stroke="#555" stroke-width="0.6"/>
<line x1="411.38" y1="235.75" x2="411.38" y2="237.25" stroke="#555" stroke-width="0.6"/>
<line x1="418.24" y1="235.75" x2="418.24" y2="237.25" stroke="#555" stroke-width="0.6"/>
<line x1="425.10" y1="235.75" x2="425.10" y2="237.25" stroke="#555" stroke-width="0.6"/>
<line x1="431.96" y1="235.75" x2="431.96" y2="237.25" stroke="#555" stroke-width="0.6"/>
<line x1="438.83" y1="235.75" x2="438.83" y2="237.25" stroke="#555" stroke-width="0.6"/>
<line x1="445.69" y1="235.75" x2="445.69" y2="237.25" stroke="#555" stroke-width="0.6"/>
<line x1="452.55" y1="235.75" x2="452.55" y2="237.25" stroke="#555" stroke-width="0.6"/>
<line x1="459.41" y1="235.75" x2="459.41" y2="237.25" stroke="#555" stroke-width="0.6"/>
<line x1="466.27" y1="235.75" x2="466.27" y2="237.25" stroke="#555" stroke-width="0.6"/>
<line x1="473.14" y1="235.75" x2="473.14" y2="237.25" stroke="#555" stroke-width="0.6"/>
<line x1="480.00" y1="235.75" x2="480.00" y2="237.25" stroke="#555" stroke-width="0.6"/>
<line x1="486.86" y1="235.75" x2="486.86" y2="237.25" stroke="#555" stroke-width="0.6"/>
<line x1="493.72" y1="235.75" x2="493.72" y2="237.25" stroke="#555" stroke-width="0.6"/>
<line x1="500.58" y1="235.75" x2="500.58" y2="237.25" stroke="#555" stroke-width="0.6"/>
<line x1="507.45" y1="235.75" x2="507.45" y2="237.25" stroke="#555" stroke-width="0.6"/>
<line x1="514.31" y1="235.75" x2="514.31" y2="237.25" stroke="#555" stroke-width="0.6"/>
<line x1="521.17" y1="235.75" x2="521.17" y2="237.25" stroke="#555" stroke-width="0.6"/>
<line x1="378.90" y1="235.75" x2="380.50" y2="235.75" stroke="#555" stroke-width="0.6"/>
<line x1="378.90" y1="222.68" x2="380.50" y2="222.68" stroke="#555" stroke-width="0.6"/>
<line x1="378.90" y1="209.61" x2="380.50" y2="209.61" stroke="#555" stroke-width="0.6"/>
<line x1="378.90" y1="196.54" x2="380.50" y2="196.54" stroke="#555" stroke-width="0.6"/>
<line x1="378.90" y1="183.47" x2="380.50" y2="183.47" stroke="#555" stroke-width="0.6"/>
<line x1="378.90" y1="170.40" x2="380.50" y2="170.40" stroke="#555" stroke-width="0.6"/>
<line x1="378.90" y1="157.33" x2="380.50" y2="157.33" stroke="#555" stroke-width="0.6"/>
<line x1="378.90" y1="144.26" x2="380.50" y2="144.26" stroke="#555" stroke-width="0.6"/>
<g transform="scale(0.1)"><text transform="translate(3839.3,2425.5) scale(1,1.15)" text-anchor="middle">0</text>
<text transform="translate(3907.9,2425.5) scale(1,1.15)" text-anchor="middle">1</text>
<text transform="translate(3976.5,2425.5) scale(1,1.15)" text-anchor="middle">2</text>
<text transform="translate(4045.2,2425.5) scale(1,1.15)" text-anchor="middle">3</text>
<text transform="translate(4113.8,2425.5) scale(1,1.15)" text-anchor="middle">4</text>
<text transform="translate(4182.4,2425.5) scale(1,1.15)" text-anchor="middle">5</text>
<text transform="translate(4251.0,2425.5) scale(1,1.15)" text-anchor="middle">6</text>
<text transform="translate(4319.6,2425.5) scale(1,1.15)" text-anchor="middle">7</text>
<text transform="translate(4388.3,2425.5) scale(1,1.15)" text-anchor="middle">8</text>
<text transform="translate(4456.9,2425.5) scale(1,1.15)" text-anchor="middle">9</text>
<text transform="translate(4525.5,2425.5) scale(1,1.15)" text-anchor="middle">10</text>
<text transform="translate(4594.1,2425.5) scale(1,1.15)" text-anchor="middle">11</text>
<text transform="translate(4662.7,2425.5) scale(1,1.15)" text-anchor="middle">12</text>
<text transform="translate(4731.4,2425.5) scale(1,1.15)" text-anchor="middle">13</text>
<text transform="translate(4800.0,2425.5) scale(1,1.15)" text-anchor="middle">14</text>
<text transform="translate(4868.6,2425.5) scale(1,1.15)" text-anchor="middle">15</text>
<text transform="translate(4937.2,2425.5) scale(1,1.15)" text-anchor="middle">16</text>
<text transform="translate(5005.8,2425.5) scale(1,1.15)" text-anchor="middle">17</text>
<text transform="translate(5074.5,2425.5) scale(1,1.15)" text-anchor="middle">18</text>
<text transform="translate(5143.1,2425.5) scale(1,1.15)" text-anchor="middle">19</text>
<text transform="translate(5211.7,2425.5) scale(1,1.15)" text-anchor="middle">20</text>
<text transform="translate(3777.0,2380.0) scale(1,1.15)" text-anchor="end">0.000</text>
<text transform="translate(3777.0,2249.3) scale(1,1.15)" text-anchor="end">0.025</text>
<text transform="translate(3777.0,2118.6) scale(1,1.15)" text-anchor="end">0.050</text>
<text transform="translate(3777.0,1987.9) scale(1,1.15)" text-anchor="end">0.075</text>
<text transform="translate(3777.0,1857.2) scale(1,1.15)" text-anchor="end">0.100</text>
<text transform="translate(3777.0,1726.5) scale(1,1.15)" text-anchor="end">0.125</text>
<text transform="translate(3777.0,1595.8) scale(1,1.15)" text-anchor="end">0.150</text>
<text transform="translate(3777.0,1465.1) scale(1,1.15)" text-anchor="end">0.175</text>
<text transform="translate(4525.5,2484.5) scale(1,1.15)" text-anchor="middle">category</text>
<text transform="translate(3628.5,1881.8) rotate(-90) scale(1,0.97)" text-anchor="middle">probability</text></g>
<rect x="172.66" y="366.83" width="5.67" height="1.02" fill="#e68193"/>
<rect x="179.75" y="364.81" width="5.67" height="3.04" fill="#e38168"/>
<rect x="186.84" y="366.49" width="5.67" height="1.36" fill="#c98747"/>
<rect x="193.94" y="366.02" width="5.67" height="1.83" fill="#b38e44"/>
<rect x="201.03" y="275.99" width="5.67" height="91.86" fill="#aa9c55"/>
<rect x="208.12" y="366.69" width="5.67" height="1.16" fill="#90943f"/>
<rect x="215.22" y="361.93" width="5.67" height="5.92" fill="#8aa453"/>
<rect x="222.31" y="366.83" width="5.67" height="1.02" fill="#58a141"/>
<rect x="229.40" y="366.83" width="5.67" height="1.02" fill="#42a16d"/>
<rect x="236.50" y="367.23" width="5.67" height="0.62" fill="#43a084"/>
<rect x="243.59" y="366.83" width="5.67" height="1.02" fill="#449e92"/>
<rect x="250.68" y="365.35" width="5.67" height="2.50" fill="#459d9d"/>
<rect x="257.77" y="360.12" width="5.67" height="7.73" fill="#5aa8b2"/>
<rect x="264.87" y="364.47" width="5.67" height="3.38" fill="#4b9fbb"/>
<rect x="271.96" y="366.29" width="5.67" height="1.56" fill="#529fd6"/>
<rect x="279.05" y="366.96" width="5.67" height="0.89" fill="#8fa0e6"/>
<rect x="286.14" y="366.83" width="5.67" height="1.02" fill="#b296e7"/>
<rect x="293.24" y="366.16" width="5.67" height="1.69" fill="#cc85e4"/>
<rect x="300.33" y="366.49" width="5.67" height="1.36" fill="#e270db"/>
<rect x="307.42" y="364.94" width="5.67" height="2.91" fill="#e478c2"/>
<rect x="314.52" y="365.35" width="5.67" height="2.50" fill="#e57dad"/>
<line x1="171.95" y1="271.55" x2="171.95" y2="367.85" stroke="#b6b6b6" stroke-width="1.5" stroke-linecap="square"/>
<line x1="171.95" y1="271.55" x2="320.90" y2="271.55" stroke="#767676" stroke-width="0.9" stroke-linecap="square"/>
<line x1="320.90" y1="271.55" x2="320.90" y2="367.85" stroke="#767676" stroke-width="0.9" stroke-linecap="square"/>
<line x1="171.95" y1="367.85" x2="320.90" y2="367.85" stroke="#9c9c9c" stroke-width="1.0" stroke-linecap="square"/>
<line x1="175.50" y1="367.85" x2="175.50" y2="369.35" stroke="#555" stroke-width="0.6"/>
<line x1="182.59" y1="367.85" x2="182.59" y2="369.35" stroke="#555" stroke-width="0.6"/>
<line x1="189.68" y1="367.85" x2="189.68" y2="369.35" stroke="#555" stroke-width="0.6"/>
<line x1="196.77" y1="367.85" x2="196.77" y2="369.35" stroke="#555" stroke-width="0.6"/>
<line x1="203.87" y1="367.85" x2="203.87" y2="369.35" stroke="#555" stroke-width="0.6"/>
<line x1="210.96" y1="367.85" x2="210.96" y2="369.35" stroke="#555" stroke-width="0.6"/>
<line x1="218.05" y1="367.85" x2="218.05" y2="369.35" stroke="#555" stroke-width="0.6"/>
<line x1="225.15" y1="367.85" x2="225.15" y2="369.35" stroke="#555" stroke-width="0.6"/>
<line x1="232.24" y1="367.85" x2="232.24" y2="369.35" stroke="#555" stroke-width="0.6"/>
<line x1="239.33" y1="367.85" x2="239.33" y2="369.35" stroke="#555" stroke-width="0.6"/>
<line x1="246.42" y1="367.85" x2="246.42" y2="369.35" stroke="#555" stroke-width="0.6"/>
<line x1="253.52" y1="367.85" x2="253.52" y2="369.35" stroke="#555" stroke-width="0.6"/>
<line x1="260.61" y1="367.85" x2="260.61" y2="369.35" stroke="#555" stroke-width="0.6"/>
<line x1="267.70" y1="367.85" x2="267.70" y2="369.35" stroke="#555" stroke-width="0.6"/>
<line x1="274.80" y1="367.85" x2="274.80" y2="369.35" stroke="#555" stroke-width="0.6"/>
<line x1="281.89" y1="367.85" x2="281.89" y2="369.35" stroke="#555" stroke-width="0.6"/>
<line x1="288.98" y1="367.85" x2="288.98" y2="369.35" stroke="#555" stroke-width="0.6"/>
<line x1="296.07" y1="367.85" x2="296.07" y2="369.35" stroke="#555" stroke-width="0.6"/>
<line x1="303.17" y1="367.85" x2="303.17" y2="369.35" stroke="#555" stroke-width="0.6"/>
<line x1="310.26" y1="367.85" x2="310.26" y2="369.35" stroke="#555" stroke-width="0.6"/>
<line x1="317.35" y1="367.85" x2="317.35" y2="369.35" stroke="#555" stroke-width="0.6"/>
<line x1="170.35" y1="367.85" x2="171.95" y2="367.85" stroke="#555" stroke-width="0.6"/>
<line x1="170.35" y1="354.40" x2="171.95" y2="354.40" stroke="#555" stroke-width="0.6"/>
<line x1="170.35" y1="340.95" x2="171.95" y2="340.95" stroke="#555" stroke-width="0.6"/>
<line x1="170.35" y1="327.50" x2="171.95" y2="327.50" stroke="#555" stroke-width="0.6"/>
<line x1="170.35" y1="314.05" x2="171.95" y2="314.05" stroke="#555" stroke-width="0.6"/>
<line x1="170.35" y1="300.60" x2="171.95" y2="300.60" stroke="#555" stroke-width="0.6"/>
<line x1="170.35" y1="287.15" x2="171.95" y2="287.15" stroke="#555" stroke-width="0.6"/>
<line x1="170.35" y1="273.70" x2="171.95" y2="273.70" stroke="#555" stroke-width="0.6"/>
<g transform="scale(0.1)"><text transform="translate(1755.0,3746.5) scale(1,1.15)" text-anchor="middle">0</text>
<text transform="translate(1825.9,3746.5) scale(1,1.15)" text-anchor="middle">1</text>
<text transform="translate(1896.8,3746.5) scale(1,1.15)" text-anchor="middle">2</text>
<text transform="translate(1967.7,3746.5) scale(1,1.15)" text-anchor="middle">3</text>
<text transform="translate(2038.7,3746.5) scale(1,1.15)" text-anchor="middle">4</text>
<text transform="translate(2109.6,3746.5) scale(1,1.15)" text-anchor="middle">5</text>
<text transform="translate(2180.5,3746.5) scale(1,1.15)" text-anchor="middle">6</text>
<text transform="translate(2251.5,3746.5) scale(1,1.15)" text-anchor="middle">7</text>
<text transform="translate(2322.4,3746.5) scale(1,1.15)" text-anchor="middle">8</text>
<text transform="translate(2393.3,3746.5) scale(1,1.15)" text-anchor="middle">9</text>
<text transform="translate(2464.2,3746.5) scale(1,1.15)" text-anchor="middle">10</text>
<text transform="translate(2535.2,3746.5) scale(1,1.15)" text-anchor="middle">11</text>
<text transform="translate(2606.1,3746.5) scale(1,1.15)" text-anchor="middle">12</text>
<text transform="translate(2677.0,3746.5) scale(1,1.15)" text-anchor="middle">13</text>
<text transform="translate(2748.0,3746.5) scale(1,1.15)" text-anchor="middle">14</text>
<text transform="translate(2818.9,3746.5) scale(1,1.15)" text-anchor="middle">15</text>
<text transform="translate(2889.8,3746.5) scale(1,1.15)" text-anchor="middle">16</text>
<text transform="translate(2960.8,3746.5) scale(1,1.15)" text-anchor="middle">17</text>
<text transform="translate(3031.7,3746.5) scale(1,1.15)" text-anchor="middle">18</text>
<text transform="translate(3102.6,3746.5) scale(1,1.15)" text-anchor="middle">19</text>
<text transform="translate(3173.5,3746.5) scale(1,1.15)" text-anchor="middle">20</text>
<text transform="translate(1691.5,3701.0) scale(1,1.15)" text-anchor="end">0.0</text>
<text transform="translate(1691.5,3566.5) scale(1,1.15)" text-anchor="end">0.1</text>
<text transform="translate(1691.5,3432.0) scale(1,1.15)" text-anchor="end">0.2</text>
<text transform="translate(1691.5,3297.5) scale(1,1.15)" text-anchor="end">0.3</text>
<text transform="translate(1691.5,3163.0) scale(1,1.15)" text-anchor="end">0.4</text>
<text transform="translate(1691.5,3028.5) scale(1,1.15)" text-anchor="end">0.5</text>
<text transform="translate(1691.5,2894.0) scale(1,1.15)" text-anchor="end">0.6</text>
<text transform="translate(1691.5,2759.5) scale(1,1.15)" text-anchor="end">0.7</text>
<text transform="translate(2464.2,3805.5) scale(1,1.15)" text-anchor="middle">category</text>
<text transform="translate(1595.2,3202.0) rotate(-90) scale(1,0.97)" text-anchor="middle">probability</text></g>
<rect x="381.19" y="350.68" width="5.49" height="17.17" fill="#e88e9e"/>
<rect x="388.05" y="349.08" width="5.49" height="18.77" fill="#e68e77"/>
<rect x="394.91" y="351.01" width="5.49" height="16.84" fill="#ce9359"/>
<rect x="401.77" y="351.01" width="5.49" height="16.84" fill="#bb9957"/>
<rect x="408.63" y="276.03" width="5.49" height="91.82" fill="#aa9c55"/>
<rect x="415.50" y="351.33" width="5.49" height="16.52" fill="#9b9f52"/>
<rect x="422.36" y="339.09" width="5.49" height="28.76" fill="#8aa453"/>
<rect x="429.22" y="350.16" width="5.49" height="17.69" fill="#69aa54"/>
<rect x="436.08" y="350.54" width="5.49" height="17.31" fill="#55aa7c"/>
<rect x="442.94" y="349.88" width="5.49" height="17.97" fill="#56aa90"/>
<rect x="449.81" y="350.11" width="5.49" height="17.74" fill="#57a89d"/>
<rect x="456.67" y="350.82" width="5.49" height="17.03" fill="#58a7a7"/>
<rect x="463.53" y="344.44" width="5.49" height="23.41" fill="#5aa8b2"/>
<rect x="470.39" y="344.67" width="5.49" height="23.18" fill="#5da9c2"/>
<rect x="477.25" y="350.35" width="5.49" height="17.50" fill="#63a9da"/>
<rect x="484.11" y="350.58" width="5.49" height="17.27" fill="#9aaae8"/>
<rect x="490.98" y="350.58" width="5.49" height="17.27" fill="#baa0e9"/>
<rect x="497.84" y="351.05" width="5.49" height="16.80" fill="#d191e7"/>
<rect x="504.70" y="350.35" width="5.49" height="17.50" fill="#e57edf"/>
<rect x="511.56" y="350.35" width="5.49" height="17.50" fill="#e786c8"/>
<rect x="518.42" y="349.88" width="5.49" height="17.97" fill="#e88ab5"/>
<line x1="380.50" y1="271.55" x2="380.50" y2="367.85" stroke="#767676" stroke-width="0.9" stroke-linecap="square"/>
<line x1="380.50" y1="271.55" x2="524.60" y2="271.55" stroke="#767676" stroke-width="0.9" stroke-linecap="square"/>
<line x1="524.60" y1="271.55" x2="524.60" y2="367.85" stroke="#767676" stroke-width="0.9" stroke-linecap="square"/>
<line x1="380.50" y1="367.85" x2="524.60" y2="367.85" stroke="#9c9c9c" stroke-width="1.0" stroke-linecap="square"/>
<line x1="383.93" y1="367.85" x2="383.93" y2="369.35" stroke="#555" stroke-width="0.6"/>
<line x1="390.79" y1="367.85" x2="390.79" y2="369.35" stroke="#555" stroke-width="0.6"/>
<line x1="397.65" y1="367.85" x2="397.65" y2="369.35" stroke="#555" stroke-width="0.6"/>
<line x1="404.52" y1="367.85" x2="404.52" y2="369.35" stroke="#555" stroke-width="0.6"/>
<line x1="411.38" y1="367.85" x2="411.38" y2="369.35" stroke="#555" stroke-width="0.6"/>
<line x1="418.24" y1="367.85" x2="418.24" y2="369.35" stroke="#555" stroke-width="0.6"/>
<line x1="425.10" y1="367.85" x2="425.10" y2="369.35" stroke="#555" stroke-width="0.6"/>
<line x1="431.96" y1="367.85" x2="431.96" y2="369.35" stroke="#555" stroke-width="0.6"/>
<line x1="438.83" y1="367.85" x2="438.83" y2="369.35" stroke="#555" stroke-width="0.6"/>
<line x1="445.69" y1="367.85" x2="445.69" y2="369.35" stroke="#555" stroke-width="0.6"/>
<line x1="452.55" y1="367.85" x2="452.55" y2="369.35" stroke="#555" stroke-width="0.6"/>
<line x1="459.41" y1="367.85" x2="459.41" y2="369.35" stroke="#555" stroke-width="0.6"/>
<line x1="466.27" y1="367.85" x2="466.27" y2="369.35" stroke="#555" stroke-width="0.6"/>
<line x1="473.14" y1="367.85" x2="473.14" y2="369.35" stroke="#555" stroke-width="0.6"/>
<line x1="480.00" y1="367.85" x2="480.00" y2="369.35" stroke="#555" stroke-width="0.6"/>
<line x1="486.86" y1="367.85" x2="486.86" y2="369.35" stroke="#555" stroke-width="0.6"/>
<line x1="493.72" y1="367.85" x2="493.72" y2="369.35" stroke="#555" stroke-width="0.6"/>
<line x1="500.58" y1="367.85" x2="500.58" y2="369.35" stroke="#555" stroke-width="0.6"/>
<line x1="507.45" y1="367.85" x2="507.45" y2="369.35" stroke="#555" stroke-width="0.6"/>
<line x1="514.31" y1="367.85" x2="514.31" y2="369.35" stroke="#555" stroke-width="0.6"/>
<line x1="521.17" y1="367.85" x2="521.17" y2="369.35" stroke="#555" stroke-width="0.6"/>
<line x1="378.90" y1="367.85" x2="380.50" y2="367.85" stroke="#555" stroke-width="0.6"/>
<line x1="378.90" y1="356.12" x2="380.50" y2="356.12" stroke="#555" stroke-width="0.6"/>
<line x1="378.90" y1="344.39" x2="380.50" y2="344.39" stroke="#555" stroke-width="0.6"/>
<line x1="378.90" y1="332.66" x2="380.50" y2="332.66" stroke="#555" stroke-width="0.6"/>
<line x1="378.90" y1="320.93" x2="380.50" y2="320.93" stroke="#555" stroke-width="0.6"/>
<line x1="378.90" y1="309.20" x2="380.50" y2="309.20" stroke="#555" stroke-width="0.6"/>
<line x1="378.90" y1="297.47" x2="380.50" y2="297.47" stroke="#555" stroke-width="0.6"/>
<line x1="378.90" y1="285.74" x2="380.50" y2="285.74" stroke="#555" stroke-width="0.6"/>
<line x1="378.90" y1="274.01" x2="380.50" y2="274.01" stroke="#555" stroke-width="0.6"/>
<g transform="scale(0.1)"><text transform="translate(3839.3,3746.5) scale(1,1.15)" text-anchor="middle">0</text>
<text transform="translate(3907.9,3746.5) scale(1,1.15)" text-anchor="middle">1</text>
<text transform="translate(3976.5,3746.5) scale(1,1.15)" text-anchor="middle">2</text>
<text transform="translate(4045.2,3746.5) scale(1,1.15)" text-anchor="middle">3</text>
<text transform="translate(4113.8,3746.5) scale(1,1.15)" text-anchor="middle">4</text>
<text transform="translate(4182.4,3746.5) scale(1,1.15)" text-anchor="middle">5</text>
<text transform="translate(4251.0,3746.5) scale(1,1.15)" text-anchor="middle">6</text>
<text transform="translate(4319.6,3746.5) scale(1,1.15)" text-anchor="middle">7</text>
<text transform="translate(4388.3,3746.5) scale(1,1.15)" text-anchor="middle">8</text>
<text transform="translate(4456.9,3746.5) scale(1,1.15)" text-anchor="middle">9</text>
<text transform="translate(4525.5,3746.5) scale(1,1.15)" text-anchor="middle">10</text>
<text transform="translate(4594.1,3746.5) scale(1,1.15)" text-anchor="middle">11</text>
<text transform="translate(4662.7,3746.5) scale(1,1.15)" text-anchor="middle">12</text>
<text transform="translate(4731.4,3746.5) scale(1,1.15)" text-anchor="middle">13</text>
<text transform="translate(4800.0,3746.5) scale(1,1.15)" text-anchor="middle">14</text>
<text transform="translate(4868.6,3746.5) scale(1,1.15)" text-anchor="middle">15</text>
<text transform="translate(4937.2,3746.5) scale(1,1.15)" text-anchor="middle">16</text>
<text transform="translate(5005.8,3746.5) scale(1,1.15)" text-anchor="middle">17</text>
<text transform="translate(5074.5,3746.5) scale(1,1.15)" text-anchor="middle">18</text>
<text transform="translate(5143.1,3746.5) scale(1,1.15)" text-anchor="middle">19</text>
<text transform="translate(5211.7,3746.5) scale(1,1.15)" text-anchor="middle">20</text>
<text transform="translate(3777.0,3701.0) scale(1,1.15)" text-anchor="end">0.000</text>
<text transform="translate(3777.0,3583.7) scale(1,1.15)" text-anchor="end">0.025</text>
<text transform="translate(3777.0,3466.4) scale(1,1.15)" text-anchor="end">0.050</text>
<text transform="translate(3777.0,3349.1) scale(1,1.15)" text-anchor="end">0.075</text>
<text transform="translate(3777.0,3231.8) scale(1,1.15)" text-anchor="end">0.100</text>
<text transform="translate(3777.0,3114.5) scale(1,1.15)" text-anchor="end">0.125</text>
<text transform="translate(3777.0,2997.2) scale(1,1.15)" text-anchor="end">0.150</text>
<text transform="translate(3777.0,2879.9) scale(1,1.15)" text-anchor="end">0.175</text>
<text transform="translate(3777.0,2762.6) scale(1,1.15)" text-anchor="end">0.200</text>
<text transform="translate(4525.5,3805.5) scale(1,1.15)" text-anchor="middle">category</text>
<text transform="translate(3628.5,3202.0) rotate(-90) scale(1,0.97)" text-anchor="middle">probability</text></g>
<rect x="172.66" y="498.90" width="5.67" height="0.85" fill="#e68193"/>
<rect x="179.75" y="497.89" width="5.67" height="1.86" fill="#e38168"/>
<rect x="186.84" y="498.77" width="5.67" height="0.98" fill="#c98747"/>
<rect x="193.94" y="498.90" width="5.67" height="0.85" fill="#b38e44"/>
<rect x="201.03" y="407.95" width="5.67" height="91.80" fill="#aa9c55"/>
<rect x="208.12" y="498.90" width="5.67" height="0.85" fill="#90943f"/>
<rect x="215.22" y="493.02" width="5.67" height="6.73" fill="#8aa453"/>
<rect x="222.31" y="499.02" width="5.67" height="0.73" fill="#58a141"/>
<rect x="229.40" y="498.90" width="5.67" height="0.85" fill="#42a16d"/>
<rect x="236.50" y="499.02" width="5.67" height="0.73" fill="#43a084"/>
<rect x="243.59" y="498.90" width="5.67" height="0.85" fill="#449e92"/>
<rect x="250.68" y="498.27" width="5.67" height="1.48" fill="#459d9d"/>
<rect x="257.77" y="494.03" width="5.67" height="5.72" fill="#5aa8b2"/>
<rect x="264.87" y="497.38" width="5.67" height="2.37" fill="#4b9fbb"/>
<rect x="271.96" y="498.77" width="5.67" height="0.98" fill="#529fd6"/>
<rect x="279.05" y="498.77" width="5.67" height="0.98" fill="#8fa0e6"/>
<rect x="286.14" y="498.77" width="5.67" height="0.98" fill="#b296e7"/>
<rect x="293.24" y="498.52" width="5.67" height="1.23" fill="#cc85e4"/>
<rect x="300.33" y="498.90" width="5.67" height="0.85" fill="#e270db"/>
<rect x="307.42" y="497.89" width="5.67" height="1.86" fill="#e478c2"/>
<rect x="314.52" y="498.05" width="5.67" height="1.70" fill="#e57dad"/>
<line x1="171.95" y1="403.30" x2="171.95" y2="499.75" stroke="#b6b6b6" stroke-width="1.5" stroke-linecap="square"/>
<line x1="171.95" y1="403.30" x2="320.90" y2="403.30" stroke="#8a8a8a" stroke-width="1.1" stroke-linecap="square"/>
<line x1="320.90" y1="403.30" x2="320.90" y2="499.75" stroke="#767676" stroke-width="0.9" stroke-linecap="square"/>
<line x1="171.95" y1="499.75" x2="320.90" y2="499.75" stroke="#9c9c9c" stroke-width="1.0" stroke-linecap="square"/>
<line x1="175.50" y1="499.75" x2="175.50" y2="501.25" stroke="#555" stroke-width="0.6"/>
<line x1="182.59" y1="499.75" x2="182.59" y2="501.25" stroke="#555" stroke-width="0.6"/>
<line x1="189.68" y1="499.75" x2="189.68" y2="501.25" stroke="#555" stroke-width="0.6"/>
<line x1="196.77" y1="499.75" x2="196.77" y2="501.25" stroke="#555" stroke-width="0.6"/>
<line x1="203.87" y1="499.75" x2="203.87" y2="501.25" stroke="#555" stroke-width="0.6"/>
<line x1="210.96" y1="499.75" x2="210.96" y2="501.25" stroke="#555" stroke-width="0.6"/>
<line x1="218.05" y1="499.75" x2="218.05" y2="501.25" stroke="#555" stroke-width="0.6"/>
<line x1="225.15" y1="499.75" x2="225.15" y2="501.25" stroke="#555" stroke-width="0.6"/>
<line x1="232.24" y1="499.75" x2="232.24" y2="501.25" stroke="#555" stroke-width="0.6"/>
<line x1="239.33" y1="499.75" x2="239.33" y2="501.25" stroke="#555" stroke-width="0.6"/>
<line x1="246.42" y1="499.75" x2="246.42" y2="501.25" stroke="#555" stroke-width="0.6"/>
<line x1="253.52" y1="499.75" x2="253.52" y2="501.25" stroke="#555" stroke-width="0.6"/>
<line x1="260.61" y1="499.75" x2="260.61" y2="501.25" stroke="#555" stroke-width="0.6"/>
<line x1="267.70" y1="499.75" x2="267.70" y2="501.25" stroke="#555" stroke-width="0.6"/>
<line x1="274.80" y1="499.75" x2="274.80" y2="501.25" stroke="#555" stroke-width="0.6"/>
<line x1="281.89" y1="499.75" x2="281.89" y2="501.25" stroke="#555" stroke-width="0.6"/>
<line x1="288.98" y1="499.75" x2="288.98" y2="501.25" stroke="#555" stroke-width="0.6"/>
<line x1="296.07" y1="499.75" x2="296.07" y2="501.25" stroke="#555" stroke-width="0.6"/>
<line x1="303.17" y1="499.75" x2="303.17" y2="501.25" stroke="#555" stroke-width="0.6"/>
<line x1="310.26" y1="499.75" x2="310.26" y2="501.25" stroke="#555" stroke-width="0.6"/>
<line x1="317.35" y1="499.75" x2="317.35" y2="501.25" stroke="#555" stroke-width="0.6"/>
<line x1="170.35" y1="499.75" x2="171.95" y2="499.75" stroke="#555" stroke-width="0.6"/>
<line x1="170.35" y1="487.15" x2="171.95" y2="487.15" stroke="#555" stroke-width="0.6"/>
<line x1="170.35" y1="474.55" x2="171.95" y2="474.55" stroke="#555" stroke-width="0.6"/>
<line x1="170.35" y1="461.95" x2="171.95" y2="461.95" stroke="#555" stroke-width="0.6"/>
<line x1="170.35" y1="449.35" x2="171.95" y2="449.35" stroke="#555" stroke-width="0.6"/>
<line x1="170.35" y1="436.75" x2="171.95" y2="436.75" stroke="#555" stroke-width="0.6"/>
<line x1="170.35" y1="424.15" x2="171.95" y2="424.15" stroke="#555" stroke-width="0.6"/>
<line x1="170.35" y1="411.55" x2="171.95" y2="411.55" stroke="#555" stroke-width="0.6"/>
<g transform="scale(0.1)"><text transform="translate(1755.0,5065.5) scale(1,1.15)" text-anchor="middle">0</text>
<text transform="translate(1825.9,5065.5) scale(1,1.15)" text-anchor="middle">1</text>
<text transform="translate(1896.8,5065.5) scale(1,1.15)" text-anchor="middle">2</text>
<text transform="translate(1967.7,5065.5) scale(1,1.15)" text-anchor="middle">3</text>
<text transform="translate(2038.7,5065.5) scale(1,1.15)" text-anchor="middle">4</text>
<text transform="translate(2109.6,5065.5) scale(1,1.15)" text-anchor="middle">5</text>
<text transform="translate(2180.5,5065.5) scale(1,1.15)" text-anchor="middle">6</text>
<text transform="translate(2251.5,5065.5) scale(1,1.15)" text-anchor="middle">7</text>
<text transform="translate(2322.4,5065.5) scale(1,1.15)" text-anchor="middle">8</text>
<text transform="translate(2393.3,5065.5) scale(1,1.15)" text-anchor="middle">9</text>
<text transform="translate(2464.2,5065.5) scale(1,1.15)" text-anchor="middle">10</text>
<text transform="translate(2535.2,5065.5) scale(1,1.15)" text-anchor="middle">11</text>
<text transform="translate(2606.1,5065.5) scale(1,1.15)" text-anchor="middle">12</text>
<text transform="translate(2677.0,5065.5) scale(1,1.15)" text-anchor="middle">13</text>
<text transform="translate(2748.0,5065.5) scale(1,1.15)" text-anchor="middle">14</text>
<text transform="translate(2818.9,5065.5) scale(1,1.15)" text-anchor="middle">15</text>
<text transform="translate(2889.8,5065.5) scale(1,1.15)" text-anchor="middle">16</text>
<text transform="translate(2960.8,5065.5) scale(1,1.15)" text-anchor="middle">17</text>
<text transform="translate(3031.7,5065.5) scale(1,1.15)" text-anchor="middle">18</text>
<text transform="translate(3102.6,5065.5) scale(1,1.15)" text-anchor="middle">19</text>
<text transform="translate(3173.5,5065.5) scale(1,1.15)" text-anchor="middle">20</text>
<text transform="translate(1691.5,5020.0) scale(1,1.15)" text-anchor="end">0.0</text>
<text transform="translate(1691.5,4894.0) scale(1,1.15)" text-anchor="end">0.1</text>
<text transform="translate(1691.5,4768.0) scale(1,1.15)" text-anchor="end">0.2</text>
<text transform="translate(1691.5,4642.0) scale(1,1.15)" text-anchor="end">0.3</text>
<text transform="translate(1691.5,4516.0) scale(1,1.15)" text-anchor="end">0.4</text>
<text transform="translate(1691.5,4390.0) scale(1,1.15)" text-anchor="end">0.5</text>
<text transform="translate(1691.5,4264.0) scale(1,1.15)" text-anchor="end">0.6</text>
<text transform="translate(1691.5,4138.0) scale(1,1.15)" text-anchor="end">0.7</text>
<text transform="translate(2464.2,5124.5) scale(1,1.15)" text-anchor="middle">category</text>
<text transform="translate(1595.2,4520.2) rotate(-90) scale(1,0.97)" text-anchor="middle">probability</text></g>
<rect x="381.19" y="480.25" width="5.49" height="19.50" fill="#e88e9e"/>
<rect x="388.05" y="478.90" width="5.49" height="20.85" fill="#e68e77"/>
<rect x="394.91" y="479.73" width="5.49" height="20.02" fill="#ce9359"/>
<rect x="401.77" y="480.41" width="5.49" height="19.34" fill="#bb9957"/>
<rect x="408.63" y="408.07" width="5.49" height="91.68" fill="#aa9c55"/>
<rect x="415.50" y="481.08" width="5.49" height="18.67" fill="#9b9f52"/>
<rect x="422.36" y="466.63" width="5.49" height="33.12" fill="#8aa453"/>
<rect x="429.22" y="480.09" width="5.49" height="19.66" fill="#69aa54"/>
<rect x="436.08" y="480.77" width="5.49" height="18.98" fill="#55aa7c"/>
<rect x="442.94" y="478.95" width="5.49" height="20.80" fill="#56aa90"/>
<rect x="449.81" y="479.89" width="5.49" height="19.86" fill="#57a89d"/>
<rect x="456.67" y="479.89" width="5.49" height="19.86" fill="#58a7a7"/>
<rect x="463.53" y="473.02" width="5.49" height="26.73" fill="#5aa8b2"/>
<rect x="470.39" y="473.75" width="5.49" height="26.00" fill="#5da9c2"/>
<rect x="477.25" y="479.89" width="5.49" height="19.86" fill="#63a9da"/>
<rect x="484.11" y="480.35" width="5.49" height="19.40" fill="#9aaae8"/>
<rect x="490.98" y="479.68" width="5.49" height="20.07" fill="#baa0e9"/>
<rect x="497.84" y="480.15" width="5.49" height="19.60" fill="#d191e7"/>
<rect x="504.70" y="480.15" width="5.49" height="19.60" fill="#e57edf"/>
<rect x="511.56" y="479.89" width="5.49" height="19.86" fill="#e786c8"/>
<rect x="518.42" y="478.22" width="5.49" height="21.53" fill="#e88ab5"/>
<line x1="380.50" y1="403.30" x2="380.50" y2="499.75" stroke="#767676" stroke-width="0.9" stroke-linecap="square"/>
<line x1="380.50" y1="403.30" x2="524.60" y2="403.30" stroke="#8a8a8a" stroke-width="1.1" stroke-linecap="square"/>
<line x1="524.60" y1="403.30" x2="524.60" y2="499.75" stroke="#767676" stroke-width="0.9" stroke-linecap="square"/>
<line x1="380.50" y1="499.75" x2="524.60" y2="499.75" stroke="#9c9c9c" stroke-width="1.0" stroke-linecap="square"/>
<line x1="383.93" y1="499.75" x2="383.93" y2="501.25" stroke="#555" stroke-width="0.6"/>
<line x1="390.79" y1="499.75" x2="390.79" y2="501.25" stroke="#555" stroke-width="0.6"/>
<line x1="397.65" y1="499.75" x2="397.65" y2="501.25" stroke="#555" stroke-width="0.6"/>
<line x1="404.52" y1="499.75" x2="404.52" y2="501.25" stroke="#555" stroke-width="0.6"/>
<line x1="411.38" y1="499.75" x2="411.38" y2="501.25" stroke="#555" stroke-width="0.6"/>
<line x1="418.24" y1="499.75" x2="418.24" y2="501.25" stroke="#555" stroke-width="0.6"/>
<line x1="425.10" y1="499.75" x2="425.10" y2="501.25" stroke="#555" stroke-width="0.6"/>
<line x1="431.96" y1="499.75" x2="431.96" y2="501.25" stroke="#555" stroke-width="0.6"/>
<line x1="438.83" y1="499.75" x2="438.83" y2="501.25" stroke="#555" stroke-width="0.6"/>
<line x1="445.69" y1="499.75" x2="445.69" y2="501.25" stroke="#555" stroke-width="0.6"/>
<line x1="452.55" y1="499.75" x2="452.55" y2="501.25" stroke="#555" stroke-width="0.6"/>
<line x1="459.41" y1="499.75" x2="459.41" y2="501.25" stroke="#555" stroke-width="0.6"/>
<line x1="466.27" y1="499.75" x2="466.27" y2="501.25" stroke="#555" stroke-width="0.6"/>
<line x1="473.14" y1="499.75" x2="473.14" y2="501.25" stroke="#555" stroke-width="0.6"/>
<line x1="480.00" y1="499.75" x2="480.00" y2="501.25" stroke="#555" stroke-width="0.6"/>
<line x1="486.86" y1="499.75" x2="486.86" y2="501.25" stroke="#555" stroke-width="0.6"/>
<line x1="493.72" y1="499.75" x2="493.72" y2="501.25" stroke="#555" stroke-width="0.6"/>
<line x1="500.58" y1="499.75" x2="500.58" y2="501.25" stroke="#555" stroke-width="0.6"/>
<line x1="507.45" y1="499.75" x2="507.45" y2="501.25" stroke="#555" stroke-width="0.6"/>
<line x1="514.31" y1="499.75" x2="514.31" y2="501.25" stroke="#555" stroke-width="0.6"/>
<line x1="521.17" y1="499.75" x2="521.17" y2="501.25" stroke="#555" stroke-width="0.6"/>
<line x1="378.90" y1="499.75" x2="380.50" y2="499.75" stroke="#555" stroke-width="0.6"/>
<line x1="378.90" y1="486.75" x2="380.50" y2="486.75" stroke="#555" stroke-width="0.6"/>
<line x1="378.90" y1="473.75" x2="380.50" y2="473.75" stroke="#555" stroke-width="0.6"/>
<line x1="378.90" y1="460.75" x2="380.50" y2="460.75" stroke="#555" stroke-width="0.6"/>
<line x1="378.90" y1="447.75" x2="380.50" y2="447.75" stroke="#555" stroke-width="0.6"/>
<line x1="378.90" y1="434.75" x2="380.50" y2="434.75" stroke="#555" stroke-width="0.6"/>
<line x1="378.90" y1="421.75" x2="380.50" y2="421.75" stroke="#555" stroke-width="0.6"/>
<line x1="378.90" y1="408.75" x2="380.50" y2="408.75" stroke="#555" stroke-width="0.6"/>
<g transform="scale(0.1)"><text transform="translate(3839.3,5065.5) scale(1,1.15)" text-anchor="middle">0</text>
<text transform="translate(3907.9,5065.5) scale(1,1.15)" text-anchor="middle">1</text>
<text transform="translate(3976.5,5065.5) scale(1,1.15)" text-anchor="middle">2</text>
<text transform="translate(4045.2,5065.5) scale(1,1.15)" text-anchor="middle">3</text>
<text transform="translate(4113.8,5065.5) scale(1,1.15)" text-anchor="middle">4</text>
<text transform="translate(4182.4,5065.5) scale(1,1.15)" text-anchor="middle">5</text>
<text transform="translate(4251.0,5065.5) scale(1,1.15)" text-anchor="middle">6</text>
<text transform="translate(4319.6,5065.5) scale(1,1.15)" text-anchor="middle">7</text>
<text transform="translate(4388.3,5065.5) scale(1,1.15)" text-anchor="middle">8</text>
<text transform="translate(4456.9,5065.5) scale(1,1.15)" text-anchor="middle">9</text>
<text transform="translate(4525.5,5065.5) scale(1,1.15)" text-anchor="middle">10</text>
<text transform="translate(4594.1,5065.5) scale(1,1.15)" text-anchor="middle">11</text>
<text transform="translate(4662.7,5065.5) scale(1,1.15)" text-anchor="middle">12</text>
<text transform="translate(4731.4,5065.5) scale(1,1.15)" text-anchor="middle">13</text>
<text transform="translate(4800.0,5065.5) scale(1,1.15)" text-anchor="middle">14</text>
<text transform="translate(4868.6,5065.5) scale(1,1.15)" text-anchor="middle">15</text>
<text transform="translate(4937.2,5065.5) scale(1,1.15)" text-anchor="middle">16</text>
<text transform="translate(5005.8,5065.5) scale(1,1.15)" text-anchor="middle">17</text>
<text transform="translate(5074.5,5065.5) scale(1,1.15)" text-anchor="middle">18</text>
<text transform="translate(5143.1,5065.5) scale(1,1.15)" text-anchor="middle">19</text>
<text transform="translate(5211.7,5065.5) scale(1,1.15)" text-anchor="middle">20</text>
<text transform="translate(3777.0,5020.0) scale(1,1.15)" text-anchor="end">0.000</text>
<text transform="translate(3777.0,4890.0) scale(1,1.15)" text-anchor="end">0.025</text>
<text transform="translate(3777.0,4760.0) scale(1,1.15)" text-anchor="end">0.050</text>
<text transform="translate(3777.0,4630.0) scale(1,1.15)" text-anchor="end">0.075</text>
<text transform="translate(3777.0,4500.0) scale(1,1.15)" text-anchor="end">0.100</text>
<text transform="translate(3777.0,4370.0) scale(1,1.15)" text-anchor="end">0.125</text>
<text transform="translate(3777.0,4240.0) scale(1,1.15)" text-anchor="end">0.150</text>
<text transform="translate(3777.0,4110.0) scale(1,1.15)" text-anchor="end">0.175</text>
<text transform="translate(4525.5,5124.5) scale(1,1.15)" text-anchor="middle">category</text>
<text transform="translate(3628.5,4520.2) rotate(-90) scale(1,0.97)" text-anchor="middle">probability</text></g>
</g>
<text class="cap" x="268.1" y="539.7" text-anchor="middle">(<tspan font-weight="bold">a</tspan>)</text>
</svg>
</body></html>
